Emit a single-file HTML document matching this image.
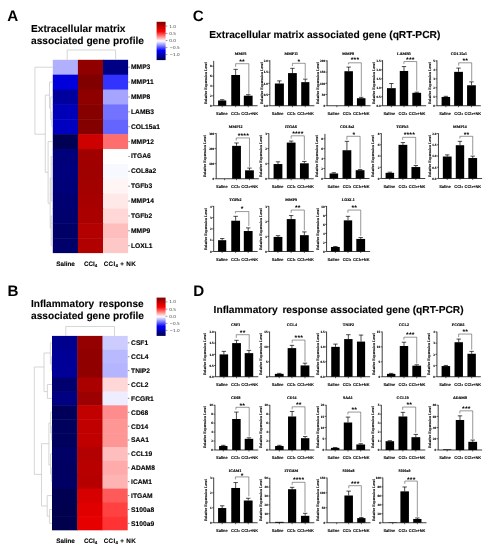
<!DOCTYPE html>
<html lang="en"><head><meta charset="utf-8"><title>Figure</title>
<style>html,body{margin:0;padding:0;background:#fff;}body{width:488px;height:550px;overflow:hidden;}svg text{text-rendering:geometricPrecision;}.ti{font:700 10.2px "Liberation Sans",Arial,sans-serif;fill:#000;stroke:#000;stroke-width:.1px;}.bg{font:700 15.2px "Liberation Sans",Arial,sans-serif;fill:#000;}.gl{font:700 6.7px "Liberation Sans",Arial,sans-serif;fill:#000;stroke:#000;stroke-width:.12px;}.hx{font:700 6.3px "Liberation Sans",Arial,sans-serif;fill:#000;stroke:#000;stroke-width:.12px;}.cb{font:4.2px "DejaVu Sans","Liberation Sans",sans-serif;fill:#444;}.tk{font:700 3.35px "Liberation Serif","Times New Roman",serif;text-anchor:end;stroke:#000;stroke-width:.12px;}.yl{font:700 3.8px "Liberation Serif","Times New Roman",serif;text-anchor:middle;stroke:#000;stroke-width:.1px;}.xl{font:700 4px "Liberation Sans",Arial,sans-serif;text-anchor:middle;stroke:#000;stroke-width:.08px;}.sb{font-size:3px;}.sr{font:700 6.9px "Liberation Sans",Arial,sans-serif;text-anchor:middle;letter-spacing:.15px;}.ct{font:700 3.9px "Liberation Serif","Times New Roman",serif;text-anchor:middle;stroke:#000;stroke-width:.14px;}</style></head>
<body>
<svg width="488" height="550" viewBox="0 0 488 550" style="display:block;"><rect x="0" y="0" width="488" height="550" fill="#fff"/>
<text x="7.2" y="20.7" class="bg">A</text>
<text x="7.6" y="296.2" class="bg">B</text>
<text x="192.8" y="20.7" class="bg">C</text>
<text x="193.2" y="296.2" class="bg">D</text>
<text x="31" y="31.5" class="ti" textLength="94.5" lengthAdjust="spacingAndGlyphs">Extracellular matrix</text>
<text x="31" y="44" class="ti" textLength="113" lengthAdjust="spacingAndGlyphs">associated gene profile</text>
<text x="31" y="306.9" class="ti" textLength="112.6" lengthAdjust="spacingAndGlyphs">Inflammatory<tspan dx="2"> response</tspan></text>
<text x="31" y="319.4" class="ti" textLength="113" lengthAdjust="spacingAndGlyphs">associated gene profile</text>
<text x="209.3" y="38.2" class="ti" textLength="231" lengthAdjust="spacingAndGlyphs">Extracellular matrix associated gene (qRT-PCR)</text>
<text x="213.6" y="312.9" class="ti" textLength="250" lengthAdjust="spacingAndGlyphs">Inflammatory<tspan dx="2"> response</tspan> associated gene (qRT-PCR)</text>
<rect x="52.8" y="59.8" width="25.6" height="15.37" fill="#b0b0ff"/>
<rect x="77.9" y="59.8" width="25.6" height="15.37" fill="#900000"/>
<rect x="103" y="59.8" width="25.1" height="15.37" fill="#000084"/>
<rect x="52.8" y="74.67" width="25.6" height="15.37" fill="#0000dc"/>
<rect x="77.9" y="74.67" width="25.6" height="15.37" fill="#800000"/>
<rect x="103" y="74.67" width="25.1" height="15.37" fill="#3333ff"/>
<rect x="52.8" y="89.54" width="25.6" height="15.37" fill="#00009f"/>
<rect x="77.9" y="89.54" width="25.6" height="15.37" fill="#8e0000"/>
<rect x="103" y="89.54" width="25.1" height="15.37" fill="#a5a5ff"/>
<rect x="52.8" y="104.41" width="25.6" height="15.37" fill="#0000b8"/>
<rect x="77.9" y="104.41" width="25.6" height="15.37" fill="#860000"/>
<rect x="103" y="104.41" width="25.1" height="15.37" fill="#7373ff"/>
<rect x="52.8" y="119.28" width="25.6" height="15.37" fill="#0000c0"/>
<rect x="77.9" y="119.28" width="25.6" height="15.37" fill="#840000"/>
<rect x="103" y="119.28" width="25.1" height="15.37" fill="#6464ff"/>
<rect x="52.8" y="134.15" width="25.6" height="15.37" fill="#000055"/>
<rect x="77.9" y="134.15" width="25.6" height="15.37" fill="#ce0000"/>
<rect x="103" y="134.15" width="25.1" height="15.37" fill="#ff6e6e"/>
<rect x="52.8" y="149.02" width="25.6" height="15.37" fill="#00007b"/>
<rect x="77.9" y="149.02" width="25.6" height="15.37" fill="#a10000"/>
<rect x="103" y="149.02" width="25.1" height="15.37" fill="#ffffff"/>
<rect x="52.8" y="163.89" width="25.6" height="15.37" fill="#00007e"/>
<rect x="77.9" y="163.89" width="25.6" height="15.37" fill="#9f0000"/>
<rect x="103" y="163.89" width="25.1" height="15.37" fill="#f8f8ff"/>
<rect x="52.8" y="178.76" width="25.6" height="15.37" fill="#000078"/>
<rect x="77.9" y="178.76" width="25.6" height="15.37" fill="#a30000"/>
<rect x="103" y="178.76" width="25.1" height="15.37" fill="#fff5f5"/>
<rect x="52.8" y="193.63" width="25.6" height="15.37" fill="#000073"/>
<rect x="77.9" y="193.63" width="25.6" height="15.37" fill="#a70000"/>
<rect x="103" y="193.63" width="25.1" height="15.37" fill="#ffe8e8"/>
<rect x="52.8" y="208.5" width="25.6" height="15.37" fill="#00006e"/>
<rect x="77.9" y="208.5" width="25.6" height="15.37" fill="#ab0000"/>
<rect x="103" y="208.5" width="25.1" height="15.37" fill="#ffd7d7"/>
<rect x="52.8" y="223.37" width="25.6" height="15.37" fill="#000067"/>
<rect x="77.9" y="223.37" width="25.6" height="15.37" fill="#b30000"/>
<rect x="103" y="223.37" width="25.1" height="15.37" fill="#ffbebe"/>
<rect x="52.8" y="238.24" width="25.6" height="14.87" fill="#00006a"/>
<rect x="77.9" y="238.24" width="25.6" height="14.87" fill="#b00000"/>
<rect x="103" y="238.24" width="25.1" height="14.87" fill="#ffc8c8"/>
<line x1="128.3" y1="67.23" x2="129.8" y2="67.23" stroke="#333" stroke-width="0.6"/>
<text class="gl" x="131" y="69.19">MMP3</text>
<line x1="128.3" y1="82.1" x2="129.8" y2="82.1" stroke="#333" stroke-width="0.6"/>
<text class="gl" x="131" y="84.05">MMP11</text>
<line x1="128.3" y1="96.97" x2="129.8" y2="96.97" stroke="#333" stroke-width="0.6"/>
<text class="gl" x="131" y="98.92">MMP8</text>
<line x1="128.3" y1="111.84" x2="129.8" y2="111.84" stroke="#333" stroke-width="0.6"/>
<text class="gl" x="131" y="113.8">LAMB3</text>
<line x1="128.3" y1="126.71" x2="129.8" y2="126.71" stroke="#333" stroke-width="0.6"/>
<text class="gl" x="131" y="128.66">COL15a1</text>
<line x1="128.3" y1="141.58" x2="129.8" y2="141.58" stroke="#333" stroke-width="0.6"/>
<text class="gl" x="131" y="143.53">MMP12</text>
<line x1="128.3" y1="156.45" x2="129.8" y2="156.45" stroke="#333" stroke-width="0.6"/>
<text class="gl" x="131" y="158.4">ITGA6</text>
<line x1="128.3" y1="171.32" x2="129.8" y2="171.32" stroke="#333" stroke-width="0.6"/>
<text class="gl" x="131" y="173.27">COL8a2</text>
<line x1="128.3" y1="186.19" x2="129.8" y2="186.19" stroke="#333" stroke-width="0.6"/>
<text class="gl" x="131" y="188.14">TGFb3</text>
<line x1="128.3" y1="201.06" x2="129.8" y2="201.06" stroke="#333" stroke-width="0.6"/>
<text class="gl" x="131" y="203.01">MMP14</text>
<line x1="128.3" y1="215.94" x2="129.8" y2="215.94" stroke="#333" stroke-width="0.6"/>
<text class="gl" x="131" y="217.88">TGFb2</text>
<line x1="128.3" y1="230.81" x2="129.8" y2="230.81" stroke="#333" stroke-width="0.6"/>
<text class="gl" x="131" y="232.75">MMP9</text>
<line x1="128.3" y1="245.68" x2="129.8" y2="245.68" stroke="#333" stroke-width="0.6"/>
<text class="gl" x="131" y="247.62">LOXL1</text>
<path d="M34.9 67.23L52.8 67.23M34.9 67.23L34.9 134.2M34.9 134.2L45.3 134.2M45.3 95.1L45.3 172.3M45.3 95.1L49.5 95.1M45.3 172.3L48.1 172.3M49.5 82.1L52.8 82.1M49.5 82.1L49.5 108.2M49.5 108.2L50.7 108.2M50.7 96.97L52.8 96.97M50.7 96.97L50.7 119.4M50.7 119.4L51.8 119.4M51.8 111.84L52.8 111.84M51.8 111.84L51.8 126.71M51.8 126.71L52.8 126.71M48.1 141.58L52.8 141.58M48.1 141.58L48.1 203.2M48.1 203.2L50.2 203.2M50.2 178L50.2 228M50.2 178L51.2 178M50.2 228L51.2 228M51.2 156.45L52.8 156.45M51.2 156.45L51.2 201.06M51.2 201.06L52.8 201.06M51.2 215.94L52.8 215.94M51.2 215.94L51.2 245.68M51.2 245.68L52.8 245.68" fill="none" stroke="#c4c4c4" stroke-width="0.7"/>
<path d="M67.2 59.8L67.2 50L115.6 50L115.6 59.8" fill="none" stroke="#c4c4c4" stroke-width="0.7"/>
<text x="56.2" y="266.3" class="hx">Saline</text>
<text x="83.9" y="266.3" class="hx">CCl<tspan font-size="4.4" dy="1">4</tspan></text>
<text x="103.7" y="266.3" class="hx" textLength="32" lengthAdjust="spacing">CCl<tspan font-size="4.4" dy="1">4</tspan><tspan dy="-1"> + NK</tspan></text>
<defs><linearGradient id="cbA" x1="0" y1="0" x2="0" y2="1"><stop offset="0" stop-color="#800000"/><stop offset="0.25" stop-color="#ff0000"/><stop offset="0.5" stop-color="#ffffff"/><stop offset="0.75" stop-color="#0000ff"/><stop offset="1" stop-color="#00004d"/></linearGradient></defs>
<rect x="156.6" y="21.8" width="9" height="38.3" fill="url(#cbA)"/>
<line x1="165.6" y1="26.1" x2="167.4" y2="26.1" stroke="#333" stroke-width="0.5"/>
<text class="cb" x="169.2" y="27.65">1.0</text>
<line x1="165.6" y1="33.4" x2="167.4" y2="33.4" stroke="#333" stroke-width="0.5"/>
<text class="cb" x="169.2" y="34.95">0.5</text>
<line x1="165.6" y1="40.5" x2="167.4" y2="40.5" stroke="#333" stroke-width="0.5"/>
<text class="cb" x="169.2" y="42.05">0.0</text>
<line x1="165.6" y1="47.6" x2="167.4" y2="47.6" stroke="#333" stroke-width="0.5"/>
<text class="cb" x="169.5" y="49.15">−0.5</text>
<line x1="165.6" y1="54.6" x2="167.4" y2="54.6" stroke="#333" stroke-width="0.5"/>
<text class="cb" x="169.5" y="56.15">−1.0</text>
<rect x="52" y="335.9" width="25.73" height="14.39" fill="#00008e"/>
<rect x="77.23" y="335.9" width="25.73" height="14.39" fill="#950000"/>
<rect x="102.46" y="335.9" width="25.23" height="14.39" fill="#ccccff"/>
<rect x="52" y="349.79" width="25.73" height="14.39" fill="#000097"/>
<rect x="77.23" y="349.79" width="25.73" height="14.39" fill="#910000"/>
<rect x="102.46" y="349.79" width="25.23" height="14.39" fill="#b9b9ff"/>
<rect x="52" y="363.67" width="25.73" height="14.39" fill="#000099"/>
<rect x="77.23" y="363.67" width="25.73" height="14.39" fill="#900000"/>
<rect x="102.46" y="363.67" width="25.23" height="14.39" fill="#b4b4ff"/>
<rect x="52" y="377.56" width="25.73" height="14.39" fill="#00006e"/>
<rect x="77.23" y="377.56" width="25.73" height="14.39" fill="#ab0000"/>
<rect x="102.46" y="377.56" width="25.23" height="14.39" fill="#ffd7d7"/>
<rect x="52" y="391.44" width="25.73" height="14.39" fill="#000081"/>
<rect x="77.23" y="391.44" width="25.73" height="14.39" fill="#9c0000"/>
<rect x="102.46" y="391.44" width="25.23" height="14.39" fill="#ededff"/>
<rect x="52" y="405.33" width="25.73" height="14.39" fill="#00005b"/>
<rect x="77.23" y="405.33" width="25.73" height="14.39" fill="#c30000"/>
<rect x="102.46" y="405.33" width="25.23" height="14.39" fill="#ff8c8c"/>
<rect x="52" y="419.22" width="25.73" height="14.39" fill="#00005d"/>
<rect x="77.23" y="419.22" width="25.73" height="14.39" fill="#c00000"/>
<rect x="102.46" y="419.22" width="25.23" height="14.39" fill="#ff9696"/>
<rect x="52" y="433.1" width="25.73" height="14.39" fill="#00005d"/>
<rect x="77.23" y="433.1" width="25.73" height="14.39" fill="#c00000"/>
<rect x="102.46" y="433.1" width="25.23" height="14.39" fill="#ff9696"/>
<rect x="52" y="446.99" width="25.73" height="14.39" fill="#000067"/>
<rect x="77.23" y="446.99" width="25.73" height="14.39" fill="#b30000"/>
<rect x="102.46" y="446.99" width="25.23" height="14.39" fill="#ffbebe"/>
<rect x="52" y="460.87" width="25.73" height="14.39" fill="#000062"/>
<rect x="77.23" y="460.87" width="25.73" height="14.39" fill="#b90000"/>
<rect x="102.46" y="460.87" width="25.23" height="14.39" fill="#ffabab"/>
<rect x="52" y="474.76" width="25.73" height="14.39" fill="#000064"/>
<rect x="77.23" y="474.76" width="25.73" height="14.39" fill="#b60000"/>
<rect x="102.46" y="474.76" width="25.23" height="14.39" fill="#ffb4b4"/>
<rect x="52" y="488.65" width="25.73" height="14.39" fill="#000052"/>
<rect x="77.23" y="488.65" width="25.73" height="14.39" fill="#d60000"/>
<rect x="102.46" y="488.65" width="25.23" height="14.39" fill="#ff5a5a"/>
<rect x="52" y="502.53" width="25.73" height="14.39" fill="#00004f"/>
<rect x="77.23" y="502.53" width="25.73" height="14.39" fill="#e00000"/>
<rect x="102.46" y="502.53" width="25.23" height="14.39" fill="#ff4141"/>
<rect x="52" y="516.42" width="25.73" height="13.89" fill="#00004d"/>
<rect x="77.23" y="516.42" width="25.73" height="13.89" fill="#e60000"/>
<rect x="102.46" y="516.42" width="25.23" height="13.89" fill="#ff3333"/>
<line x1="127.89" y1="342.84" x2="129.39" y2="342.84" stroke="#333" stroke-width="0.6"/>
<text class="gl" x="131.09" y="345.24">CSF1</text>
<line x1="127.89" y1="356.73" x2="129.39" y2="356.73" stroke="#333" stroke-width="0.6"/>
<text class="gl" x="131.09" y="359.13">CCL4</text>
<line x1="127.89" y1="370.61" x2="129.39" y2="370.61" stroke="#333" stroke-width="0.6"/>
<text class="gl" x="131.09" y="373.01">TNIP2</text>
<line x1="127.89" y1="384.5" x2="129.39" y2="384.5" stroke="#333" stroke-width="0.6"/>
<text class="gl" x="131.09" y="386.9">CCL2</text>
<line x1="127.89" y1="398.39" x2="129.39" y2="398.39" stroke="#333" stroke-width="0.6"/>
<text class="gl" x="131.09" y="400.79">FCGR1</text>
<line x1="127.89" y1="412.27" x2="129.39" y2="412.27" stroke="#333" stroke-width="0.6"/>
<text class="gl" x="131.09" y="414.67">CD68</text>
<line x1="127.89" y1="426.16" x2="129.39" y2="426.16" stroke="#333" stroke-width="0.6"/>
<text class="gl" x="131.09" y="428.56">CD14</text>
<line x1="127.89" y1="440.04" x2="129.39" y2="440.04" stroke="#333" stroke-width="0.6"/>
<text class="gl" x="131.09" y="442.44">SAA1</text>
<line x1="127.89" y1="453.93" x2="129.39" y2="453.93" stroke="#333" stroke-width="0.6"/>
<text class="gl" x="131.09" y="456.33">CCL19</text>
<line x1="127.89" y1="467.82" x2="129.39" y2="467.82" stroke="#333" stroke-width="0.6"/>
<text class="gl" x="131.09" y="470.22">ADAM8</text>
<line x1="127.89" y1="481.7" x2="129.39" y2="481.7" stroke="#333" stroke-width="0.6"/>
<text class="gl" x="131.09" y="484.1">ICAM1</text>
<line x1="127.89" y1="495.59" x2="129.39" y2="495.59" stroke="#333" stroke-width="0.6"/>
<text class="gl" x="131.09" y="497.99">ITGAM</text>
<line x1="127.89" y1="509.47" x2="129.39" y2="509.47" stroke="#333" stroke-width="0.6"/>
<text class="gl" x="131.09" y="511.87">S100a8</text>
<line x1="127.89" y1="523.36" x2="129.39" y2="523.36" stroke="#333" stroke-width="0.6"/>
<text class="gl" x="131.09" y="525.76">S100a9</text>
<path d="M34.3 367L34.3 474.4M34.3 367L44 367M34.3 474.4L41.5 474.4M44 353L44 391.6M44 353L50.4 353M44 391.6L47.4 391.6M47.4 384.5L52 384.5M47.4 384.5L47.4 398.39M47.4 398.39L52 398.39M50.4 342.84L52 342.84M50.4 342.84L50.4 363.9M50.4 363.9L51.5 363.9M51.5 356.73L52 356.73M51.5 356.73L51.5 370.61M51.5 370.61L52 370.61M41.5 443.7L41.5 506M41.5 443.7L48.9 443.7M41.5 506L47.2 506M48.9 423L48.9 465M48.9 423L50.6 423M48.9 465L50.6 465M50.6 412.27L52 412.27M50.6 412.27L50.6 433M50.6 433L51.6 433M51.6 426.16L52 426.16M51.6 426.16L51.6 440.04M51.6 440.04L52 440.04M50.6 453.93L52 453.93M50.6 453.93L50.6 474M50.6 474L51.6 474M51.6 467.82L52 467.82M51.6 467.82L51.6 481.7M51.6 481.7L52 481.7M47.2 495.59L52 495.59M47.2 495.59L47.2 516.2M47.2 516.2L49.6 516.2M49.6 509.47L52 509.47M49.6 509.47L49.6 523.36M49.6 523.36L52 523.36" fill="none" stroke="#c4c4c4" stroke-width="0.7"/>
<path d="M65.8 335.9L65.8 326.5L114.5 326.5L114.5 335.9" fill="none" stroke="#c4c4c4" stroke-width="0.7"/>
<text x="56.2" y="543.2" class="hx">Saline</text>
<text x="83.9" y="543.2" class="hx">CCl<tspan font-size="4.4" dy="1">4</tspan></text>
<text x="103.7" y="543.2" class="hx" textLength="32" lengthAdjust="spacing">CCl<tspan font-size="4.4" dy="1">4</tspan><tspan dy="-1"> + NK</tspan></text>
<defs><linearGradient id="cbB" x1="0" y1="0" x2="0" y2="1"><stop offset="0" stop-color="#800000"/><stop offset="0.25" stop-color="#ff0000"/><stop offset="0.5" stop-color="#ffffff"/><stop offset="0.75" stop-color="#0000ff"/><stop offset="1" stop-color="#00004d"/></linearGradient></defs>
<rect x="156.6" y="297.6" width="9" height="38.3" fill="url(#cbB)"/>
<line x1="165.6" y1="301.9" x2="167.4" y2="301.9" stroke="#333" stroke-width="0.5"/>
<text class="cb" x="169.2" y="303.45">1.0</text>
<line x1="165.6" y1="309.2" x2="167.4" y2="309.2" stroke="#333" stroke-width="0.5"/>
<text class="cb" x="169.2" y="310.75">0.5</text>
<line x1="165.6" y1="316.3" x2="167.4" y2="316.3" stroke="#333" stroke-width="0.5"/>
<text class="cb" x="169.2" y="317.85">0.0</text>
<line x1="165.6" y1="323.4" x2="167.4" y2="323.4" stroke="#333" stroke-width="0.5"/>
<text class="cb" x="169.5" y="324.95">−0.5</text>
<line x1="165.6" y1="330.4" x2="167.4" y2="330.4" stroke="#333" stroke-width="0.5"/>
<text class="cb" x="169.5" y="331.95">−1.0</text>
<g><path d="M213.69 60.88L213.69 105.74L257.62 105.74" fill="none" stroke="#000" stroke-width="0.75"/><line x1="212.09" y1="105.74" x2="213.69" y2="105.74" stroke="#000" stroke-width="0.6"/><text class="tk" x="211.69" y="106.99">0</text><line x1="212.09" y1="95.85" x2="213.69" y2="95.85" stroke="#000" stroke-width="0.6"/><text class="tk" x="211.69" y="97.1">2</text><line x1="212.09" y1="85.97" x2="213.69" y2="85.97" stroke="#000" stroke-width="0.6"/><text class="tk" x="211.69" y="87.22">4</text><line x1="212.09" y1="76.08" x2="213.69" y2="76.08" stroke="#000" stroke-width="0.6"/><text class="tk" x="211.69" y="77.33">6</text><line x1="212.09" y1="66.2" x2="213.69" y2="66.2" stroke="#000" stroke-width="0.6"/><text class="tk" x="211.69" y="67.45">8</text><text class="yl" transform="translate(206.91 83.14) rotate(-90)">Relative Expression Level</text><rect x="218.08" y="100.47" width="8.16" height="5.27" fill="#000"/><path d="M222.16 100.47L222.16 99.71M219.96 99.71L224.36 99.71" stroke="#000" stroke-width="0.7" fill="none"/><line x1="222.16" y1="105.74" x2="222.16" y2="107.24" stroke="#000" stroke-width="0.6"/><text class="xl" x="221.9" y="114.87">Saline</text><rect x="231.26" y="74.99" width="8.79" height="30.75" fill="#000"/><path d="M235.65 74.99L235.65 69.34M233.45 69.34L237.85 69.34" stroke="#000" stroke-width="0.7" fill="none"/><line x1="235.65" y1="105.74" x2="235.65" y2="107.24" stroke="#000" stroke-width="0.6"/><text class="xl" x="235.4" y="114.87">CCl<tspan class="sb" dy="0.6">4</tspan></text><rect x="243.81" y="95.7" width="8.79" height="10.04" fill="#000"/><path d="M248.21 95.7L248.21 94.69M246.01 94.69L250.41 94.69" stroke="#000" stroke-width="0.7" fill="none"/><line x1="248.21" y1="105.74" x2="248.21" y2="107.24" stroke="#000" stroke-width="0.6"/><text class="xl" x="249.7" y="114.87">CCl<tspan class="sb" dy="0.6">4</tspan><tspan dy="-0.6">+NK</tspan></text><path d="M235.65 66.83L235.65 63.69L248.83 63.69L248.83 93.81" fill="none" stroke="#333" stroke-width="0.5"/><text class="sr" x="242.08" y="63.75">**</text><text class="ct" x="240.67" y="54.95">MMP3</text></g>
<g><path d="M269.83 60.25L269.83 105.74L314.38 105.74" fill="none" stroke="#000" stroke-width="0.75"/><line x1="268.23" y1="105.74" x2="269.83" y2="105.74" stroke="#000" stroke-width="0.6"/><text class="tk" x="267.83" y="106.99">0.0</text><line x1="268.23" y1="94.53" x2="269.83" y2="94.53" stroke="#000" stroke-width="0.6"/><text class="tk" x="267.83" y="95.78">0.5</text><line x1="268.23" y1="83.33" x2="269.83" y2="83.33" stroke="#000" stroke-width="0.6"/><text class="tk" x="267.83" y="84.58">1.0</text><line x1="268.23" y1="72.13" x2="269.83" y2="72.13" stroke="#000" stroke-width="0.6"/><text class="tk" x="267.83" y="73.38">1.5</text><line x1="268.23" y1="60.93" x2="269.83" y2="60.93" stroke="#000" stroke-width="0.6"/><text class="tk" x="267.83" y="62.18">2.0</text><text class="yl" transform="translate(263.05 83.14) rotate(-90)">Relative Expression Level</text><rect x="274.85" y="83.52" width="9.04" height="22.22" fill="#000"/><path d="M279.37 83.52L279.37 80.88M277.17 80.88L281.57 80.88" stroke="#000" stroke-width="0.7" fill="none"/><line x1="279.37" y1="105.74" x2="279.37" y2="107.24" stroke="#000" stroke-width="0.6"/><text class="xl" x="277.7" y="114.87">Saline</text><rect x="288.03" y="73.1" width="8.79" height="32.63" fill="#000"/><path d="M292.42 73.1L292.42 68.33M290.22 68.33L294.62 68.33" stroke="#000" stroke-width="0.7" fill="none"/><line x1="292.42" y1="105.74" x2="292.42" y2="107.24" stroke="#000" stroke-width="0.6"/><text class="xl" x="291.2" y="114.87">CCl<tspan class="sb" dy="0.6">4</tspan></text><rect x="301.21" y="82.14" width="8.16" height="23.6" fill="#000"/><path d="M305.28 82.14L305.28 79.13M303.08 79.13L307.48 79.13" stroke="#000" stroke-width="0.7" fill="none"/><line x1="305.28" y1="105.74" x2="305.28" y2="107.24" stroke="#000" stroke-width="0.6"/><text class="xl" x="305.5" y="114.87">CCl<tspan class="sb" dy="0.6">4</tspan><tspan dy="-0.6">+NK</tspan></text><path d="M292.42 66.2L292.42 63.31L305.22 63.31L305.22 78.12" fill="none" stroke="#333" stroke-width="0.5"/><text class="sr" x="298.85" y="63.75">*</text><text class="ct" x="291.16" y="54.95">MMP11</text></g>
<g><path d="M327.08 60.25L327.08 105.74L370.51 105.74" fill="none" stroke="#000" stroke-width="0.75"/><line x1="325.48" y1="105.74" x2="327.08" y2="105.74" stroke="#000" stroke-width="0.6"/><text class="tk" x="325.08" y="106.99">0</text><line x1="325.48" y1="94.53" x2="327.08" y2="94.53" stroke="#000" stroke-width="0.6"/><text class="tk" x="325.08" y="95.78">50</text><line x1="325.48" y1="83.33" x2="327.08" y2="83.33" stroke="#000" stroke-width="0.6"/><text class="tk" x="325.08" y="84.58">100</text><line x1="325.48" y1="72.13" x2="327.08" y2="72.13" stroke="#000" stroke-width="0.6"/><text class="tk" x="325.08" y="73.38">150</text><line x1="325.48" y1="60.93" x2="327.08" y2="60.93" stroke="#000" stroke-width="0.6"/><text class="tk" x="325.08" y="62.18">200</text><text class="yl" transform="translate(318.79 83.14) rotate(-90)">Relative Expression Level</text><line x1="336.87" y1="105.74" x2="336.87" y2="107.24" stroke="#000" stroke-width="0.6"/><text class="xl" x="333.5" y="114.87">Saline</text><rect x="344.4" y="71.22" width="8.53" height="34.52" fill="#000"/><path d="M348.67 71.22L348.67 67.08M346.47 67.08L350.87 67.08" stroke="#000" stroke-width="0.7" fill="none"/><line x1="348.67" y1="105.74" x2="348.67" y2="107.24" stroke="#000" stroke-width="0.6"/><text class="xl" x="347" y="114.87">CCl<tspan class="sb" dy="0.6">4</tspan></text><rect x="356.95" y="98.21" width="8.53" height="7.53" fill="#000"/><path d="M361.22 98.21L361.22 97.33M359.02 97.33L363.42 97.33" stroke="#000" stroke-width="0.7" fill="none"/><line x1="361.22" y1="105.74" x2="361.22" y2="107.24" stroke="#000" stroke-width="0.6"/><text class="xl" x="361.3" y="114.87">CCl<tspan class="sb" dy="0.6">4</tspan><tspan dy="-0.6">+NK</tspan></text><path d="M348.42 64.32L348.42 62.81L361.34 62.81L361.34 96.32" fill="none" stroke="#333" stroke-width="0.5"/><text class="sr" x="354.97" y="61.87">***</text><text class="ct" x="348.16" y="54.95">MMP8</text></g>
<g><path d="M382.58 60.25L382.58 105.74L426.13 105.74" fill="none" stroke="#000" stroke-width="0.75"/><line x1="380.98" y1="105.74" x2="382.58" y2="105.74" stroke="#000" stroke-width="0.6"/><text class="tk" x="380.58" y="106.99">0.0</text><line x1="380.98" y1="96.77" x2="382.58" y2="96.77" stroke="#000" stroke-width="0.6"/><text class="tk" x="380.58" y="98.02">0.5</text><line x1="380.98" y1="87.81" x2="382.58" y2="87.81" stroke="#000" stroke-width="0.6"/><text class="tk" x="380.58" y="89.06">1.0</text><line x1="380.98" y1="78.85" x2="382.58" y2="78.85" stroke="#000" stroke-width="0.6"/><text class="tk" x="380.58" y="80.1">1.5</text><line x1="380.98" y1="69.89" x2="382.58" y2="69.89" stroke="#000" stroke-width="0.6"/><text class="tk" x="380.58" y="71.14">2.0</text><line x1="380.98" y1="60.93" x2="382.58" y2="60.93" stroke="#000" stroke-width="0.6"/><text class="tk" x="380.58" y="62.18">2.5</text><text class="yl" transform="translate(374.79 83.14) rotate(-90)">Relative Expression Level</text><rect x="386.97" y="88.16" width="8.79" height="17.57" fill="#000"/><path d="M391.36 88.16L391.36 83.52M389.16 83.52L393.56 83.52" stroke="#000" stroke-width="0.7" fill="none"/><line x1="391.36" y1="105.74" x2="391.36" y2="107.24" stroke="#000" stroke-width="0.6"/><text class="xl" x="389.3" y="114.87">Saline</text><rect x="399.77" y="70.97" width="8.41" height="34.77" fill="#000"/><path d="M403.98 70.97L403.98 66.58M401.78 66.58L406.18 66.58" stroke="#000" stroke-width="0.7" fill="none"/><line x1="403.98" y1="105.74" x2="403.98" y2="107.24" stroke="#000" stroke-width="0.6"/><text class="xl" x="402.8" y="114.87">CCl<tspan class="sb" dy="0.6">4</tspan></text><rect x="412.32" y="92.81" width="8.79" height="12.93" fill="#000"/><path d="M416.72 92.81L416.72 92.18M414.52 92.18L418.92 92.18" stroke="#000" stroke-width="0.7" fill="none"/><line x1="416.72" y1="105.74" x2="416.72" y2="107.24" stroke="#000" stroke-width="0.6"/><text class="xl" x="417.1" y="114.87">CCl<tspan class="sb" dy="0.6">4</tspan><tspan dy="-0.6">+NK</tspan></text><path d="M403.91 64.07L403.91 61.56L416.72 61.56L416.72 90.67" fill="none" stroke="#333" stroke-width="0.5"/><text class="sr" x="410.34" y="61.87">***</text><text class="ct" x="403.91" y="54.95">LAMB3</text></g>
<g><path d="M436.94 60.25L436.94 105.74L480.87 105.74" fill="none" stroke="#000" stroke-width="0.75"/><line x1="435.34" y1="105.74" x2="436.94" y2="105.74" stroke="#000" stroke-width="0.6"/><text class="tk" x="434.94" y="106.99">0</text><line x1="435.34" y1="96.77" x2="436.94" y2="96.77" stroke="#000" stroke-width="0.6"/><text class="tk" x="434.94" y="98.02">1</text><line x1="435.34" y1="87.81" x2="436.94" y2="87.81" stroke="#000" stroke-width="0.6"/><text class="tk" x="434.94" y="89.06">2</text><line x1="435.34" y1="78.85" x2="436.94" y2="78.85" stroke="#000" stroke-width="0.6"/><text class="tk" x="434.94" y="80.1">3</text><line x1="435.34" y1="69.89" x2="436.94" y2="69.89" stroke="#000" stroke-width="0.6"/><text class="tk" x="434.94" y="71.14">4</text><line x1="435.34" y1="60.93" x2="436.94" y2="60.93" stroke="#000" stroke-width="0.6"/><text class="tk" x="434.94" y="62.18">5</text><text class="yl" transform="translate(430.54 83.14) rotate(-90)">Relative Expression Level</text><rect x="441.59" y="96.95" width="8.53" height="8.79" fill="#000"/><path d="M445.86 96.95L445.86 96.32M443.66 96.32L448.06 96.32" stroke="#000" stroke-width="0.7" fill="none"/><line x1="445.86" y1="105.74" x2="445.86" y2="107.24" stroke="#000" stroke-width="0.6"/><text class="xl" x="445.1" y="114.87">Saline</text><rect x="454.14" y="71.85" width="8.79" height="33.89" fill="#000"/><path d="M458.53 71.85L458.53 68.08M456.33 68.08L460.73 68.08" stroke="#000" stroke-width="0.7" fill="none"/><line x1="458.53" y1="105.74" x2="458.53" y2="107.24" stroke="#000" stroke-width="0.6"/><text class="xl" x="458.6" y="114.87">CCl<tspan class="sb" dy="0.6">4</tspan></text><rect x="467.07" y="85.28" width="8.79" height="20.46" fill="#000"/><path d="M471.46 85.28L471.46 81.89M469.26 81.89L473.66 81.89" stroke="#000" stroke-width="0.7" fill="none"/><line x1="471.46" y1="105.74" x2="471.46" y2="107.24" stroke="#000" stroke-width="0.6"/><text class="xl" x="472.9" y="114.87">CCl<tspan class="sb" dy="0.6">4</tspan><tspan dy="-0.6">+NK</tspan></text><path d="M458.66 65.57L458.66 62.81L471.71 62.81L471.71 80.88" fill="none" stroke="#333" stroke-width="0.5"/><text class="sr" x="465.34" y="63.12">**</text><text class="ct" x="458.91" y="54.95">COL15a1</text></g>
<g><path d="M216.2 133.25L216.2 178.74L258.87 178.74" fill="none" stroke="#000" stroke-width="0.75"/><line x1="214.6" y1="178.74" x2="216.2" y2="178.74" stroke="#000" stroke-width="0.6"/><text class="tk" x="214.2" y="179.99">0</text><line x1="214.6" y1="163.67" x2="216.2" y2="163.67" stroke="#000" stroke-width="0.6"/><text class="tk" x="214.2" y="164.92">100</text><line x1="214.6" y1="148.61" x2="216.2" y2="148.61" stroke="#000" stroke-width="0.6"/><text class="tk" x="214.2" y="149.86">200</text><line x1="214.6" y1="133.55" x2="216.2" y2="133.55" stroke="#000" stroke-width="0.6"/><text class="tk" x="214.2" y="134.8">300</text><text class="yl" transform="translate(205.65 156.14) rotate(-90)">Relative Expression Level</text><line x1="224.61" y1="178.74" x2="224.61" y2="180.24" stroke="#000" stroke-width="0.6"/><text class="xl" x="221.9" y="187.87">Saline</text><rect x="232.14" y="145.85" width="8.79" height="32.88" fill="#000"/><path d="M236.53 145.85L236.53 142.97M234.33 142.97L238.73 142.97" stroke="#000" stroke-width="0.7" fill="none"/><line x1="236.53" y1="178.74" x2="236.53" y2="180.24" stroke="#000" stroke-width="0.6"/><text class="xl" x="235.4" y="187.87">CCl<tspan class="sb" dy="0.6">4</tspan></text><rect x="245.07" y="170.33" width="8.79" height="8.41" fill="#000"/><path d="M249.46 170.33L249.46 168.07M247.26 168.07L251.66 168.07" stroke="#000" stroke-width="0.7" fill="none"/><line x1="249.46" y1="178.74" x2="249.46" y2="180.24" stroke="#000" stroke-width="0.6"/><text class="xl" x="249.7" y="187.87">CCl<tspan class="sb" dy="0.6">4</tspan><tspan dy="-0.6">+NK</tspan></text><path d="M236.28 140.45L236.28 137.94L249.46 137.94L249.46 166.81" fill="none" stroke="#333" stroke-width="0.5"/><text class="sr" x="243.34" y="137.76">****</text><text class="ct" x="235.65" y="127.95">MMP12</text></g>
<g><path d="M268.82 133.25L268.82 178.74L313.76 178.74" fill="none" stroke="#000" stroke-width="0.75"/><line x1="267.22" y1="178.74" x2="268.82" y2="178.74" stroke="#000" stroke-width="0.6"/><text class="tk" x="266.82" y="179.99">0</text><line x1="267.22" y1="163.67" x2="268.82" y2="163.67" stroke="#000" stroke-width="0.6"/><text class="tk" x="266.82" y="164.92">1</text><line x1="267.22" y1="148.61" x2="268.82" y2="148.61" stroke="#000" stroke-width="0.6"/><text class="tk" x="266.82" y="149.86">2</text><line x1="267.22" y1="133.55" x2="268.82" y2="133.55" stroke="#000" stroke-width="0.6"/><text class="tk" x="266.82" y="134.8">3</text><text class="yl" transform="translate(262.04 156.14) rotate(-90)">Relative Expression Level</text><rect x="273.59" y="164.05" width="8.79" height="14.69" fill="#000"/><path d="M277.99 164.05L277.99 161.79M275.79 161.79L280.19 161.79" stroke="#000" stroke-width="0.7" fill="none"/><line x1="277.99" y1="178.74" x2="277.99" y2="180.24" stroke="#000" stroke-width="0.6"/><text class="xl" x="277.7" y="187.87">Saline</text><rect x="286.77" y="142.59" width="8.79" height="36.15" fill="#000"/><path d="M291.16 142.59L291.16 141.08M288.96 141.08L293.36 141.08" stroke="#000" stroke-width="0.7" fill="none"/><line x1="291.16" y1="178.74" x2="291.16" y2="180.24" stroke="#000" stroke-width="0.6"/><text class="xl" x="291.2" y="187.87">CCl<tspan class="sb" dy="0.6">4</tspan></text><rect x="299.95" y="163.3" width="8.79" height="15.44" fill="#000"/><path d="M304.34 163.3L304.34 161.42M302.14 161.42L306.54 161.42" stroke="#000" stroke-width="0.7" fill="none"/><line x1="304.34" y1="178.74" x2="304.34" y2="180.24" stroke="#000" stroke-width="0.6"/><text class="xl" x="305.5" y="187.87">CCl<tspan class="sb" dy="0.6">4</tspan><tspan dy="-0.6">+NK</tspan></text><path d="M291.16 138.57L291.16 135.81L304.34 135.81L304.34 159.91" fill="none" stroke="#333" stroke-width="0.5"/><text class="sr" x="297.84" y="136.12">****</text><text class="ct" x="290.91" y="127.95">ITGA6</text></g>
<g><path d="M324.94 133.88L324.94 178.49L369.5 178.49" fill="none" stroke="#000" stroke-width="0.75"/><line x1="323.34" y1="178.49" x2="324.94" y2="178.49" stroke="#000" stroke-width="0.6"/><text class="tk" x="322.94" y="179.74">0</text><line x1="323.34" y1="168.57" x2="324.94" y2="168.57" stroke="#000" stroke-width="0.6"/><text class="tk" x="322.94" y="169.82">2</text><line x1="323.34" y1="158.65" x2="324.94" y2="158.65" stroke="#000" stroke-width="0.6"/><text class="tk" x="322.94" y="159.9">4</text><line x1="323.34" y1="148.74" x2="324.94" y2="148.74" stroke="#000" stroke-width="0.6"/><text class="tk" x="322.94" y="149.99">6</text><line x1="323.34" y1="138.82" x2="324.94" y2="138.82" stroke="#000" stroke-width="0.6"/><text class="tk" x="322.94" y="140.07">8</text><text class="yl" transform="translate(318.16 156.14) rotate(-90)">Relative Expression Level</text><rect x="329.59" y="173.47" width="8.53" height="5.02" fill="#000"/><path d="M333.86 173.47L333.86 172.71M331.66 172.71L336.06 172.71" stroke="#000" stroke-width="0.7" fill="none"/><line x1="333.86" y1="178.49" x2="333.86" y2="179.99" stroke="#000" stroke-width="0.6"/><text class="xl" x="333.5" y="187.87">Saline</text><rect x="342.52" y="150.24" width="8.79" height="28.24" fill="#000"/><path d="M346.91 150.24L346.91 141.33M344.71 141.33L349.11 141.33" stroke="#000" stroke-width="0.7" fill="none"/><line x1="346.91" y1="178.49" x2="346.91" y2="179.99" stroke="#000" stroke-width="0.6"/><text class="xl" x="347" y="187.87">CCl<tspan class="sb" dy="0.6">4</tspan></text><rect x="355.7" y="170.2" width="8.79" height="8.28" fill="#000"/><path d="M360.09 170.2L360.09 169.57M357.89 169.57L362.29 169.57" stroke="#000" stroke-width="0.7" fill="none"/><line x1="360.09" y1="178.49" x2="360.09" y2="179.99" stroke="#000" stroke-width="0.6"/><text class="xl" x="361.3" y="187.87">CCl<tspan class="sb" dy="0.6">4</tspan><tspan dy="-0.6">+NK</tspan></text><path d="M346.91 139.83L346.91 136.31L360.09 136.31L360.09 168.44" fill="none" stroke="#333" stroke-width="0.5"/><text class="sr" x="353.96" y="136.75">*</text><text class="ct" x="347.16" y="127.95">COL8a2</text></g>
<g><path d="M381.32 133.25L381.32 178.49L425.25 178.49" fill="none" stroke="#000" stroke-width="0.75"/><line x1="379.72" y1="178.49" x2="381.32" y2="178.49" stroke="#000" stroke-width="0.6"/><text class="tk" x="379.32" y="179.74">0</text><line x1="379.72" y1="167.25" x2="381.32" y2="167.25" stroke="#000" stroke-width="0.6"/><text class="tk" x="379.32" y="168.5">2</text><line x1="379.72" y1="156.02" x2="381.32" y2="156.02" stroke="#000" stroke-width="0.6"/><text class="tk" x="379.32" y="157.27">4</text><line x1="379.72" y1="144.78" x2="381.32" y2="144.78" stroke="#000" stroke-width="0.6"/><text class="tk" x="379.32" y="146.03">6</text><line x1="379.72" y1="133.55" x2="381.32" y2="133.55" stroke="#000" stroke-width="0.6"/><text class="tk" x="379.32" y="134.8">8</text><text class="yl" transform="translate(374.16 156.14) rotate(-90)">Relative Expression Level</text><rect x="385.59" y="172.84" width="8.53" height="5.65" fill="#000"/><path d="M389.86 172.84L389.86 172.21M387.66 172.21L392.06 172.21" stroke="#000" stroke-width="0.7" fill="none"/><line x1="389.86" y1="178.49" x2="389.86" y2="179.99" stroke="#000" stroke-width="0.6"/><text class="xl" x="389.3" y="187.87">Saline</text><rect x="398.52" y="144.85" width="8.79" height="33.64" fill="#000"/><path d="M402.91 144.85L402.91 142.59M400.71 142.59L405.11 142.59" stroke="#000" stroke-width="0.7" fill="none"/><line x1="402.91" y1="178.49" x2="402.91" y2="179.99" stroke="#000" stroke-width="0.6"/><text class="xl" x="402.8" y="187.87">CCl<tspan class="sb" dy="0.6">4</tspan></text><rect x="411.44" y="167.06" width="8.79" height="11.42" fill="#000"/><path d="M415.84 167.06L415.84 165.56M413.64 165.56L418.04 165.56" stroke="#000" stroke-width="0.7" fill="none"/><line x1="415.84" y1="178.49" x2="415.84" y2="179.99" stroke="#000" stroke-width="0.6"/><text class="xl" x="417.1" y="187.87">CCl<tspan class="sb" dy="0.6">4</tspan><tspan dy="-0.6">+NK</tspan></text><path d="M402.66 139.83L402.66 137.32L415.71 137.32L415.71 164.3" fill="none" stroke="#333" stroke-width="0.5"/><text class="sr" x="409.34" y="137.38">****</text><text class="ct" x="402.28" y="127.95">TGFb3</text></g>
<g><path d="M438.45 133.25L438.45 178.49L482.13 178.49" fill="none" stroke="#000" stroke-width="0.75"/><line x1="436.85" y1="178.49" x2="438.45" y2="178.49" stroke="#000" stroke-width="0.6"/><text class="tk" x="436.45" y="179.74">0.0</text><line x1="436.85" y1="167.25" x2="438.45" y2="167.25" stroke="#000" stroke-width="0.6"/><text class="tk" x="436.45" y="168.5">0.5</text><line x1="436.85" y1="156.02" x2="438.45" y2="156.02" stroke="#000" stroke-width="0.6"/><text class="tk" x="436.45" y="157.27">1.0</text><line x1="436.85" y1="144.78" x2="438.45" y2="144.78" stroke="#000" stroke-width="0.6"/><text class="tk" x="436.45" y="146.03">1.5</text><line x1="436.85" y1="133.55" x2="438.45" y2="133.55" stroke="#000" stroke-width="0.6"/><text class="tk" x="436.45" y="134.8">2.0</text><text class="yl" transform="translate(430.54 156.14) rotate(-90)">Relative Expression Level</text><rect x="442.84" y="156.52" width="8.79" height="21.97" fill="#000"/><path d="M447.24 156.52L447.24 154.89M445.04 154.89L449.44 154.89" stroke="#000" stroke-width="0.7" fill="none"/><line x1="447.24" y1="178.49" x2="447.24" y2="179.99" stroke="#000" stroke-width="0.6"/><text class="xl" x="445.1" y="187.87">Saline</text><rect x="455.77" y="145.22" width="8.41" height="33.26" fill="#000"/><path d="M459.98 145.22L459.98 141.33M457.78 141.33L462.18 141.33" stroke="#000" stroke-width="0.7" fill="none"/><line x1="459.98" y1="178.49" x2="459.98" y2="179.99" stroke="#000" stroke-width="0.6"/><text class="xl" x="458.6" y="187.87">CCl<tspan class="sb" dy="0.6">4</tspan></text><rect x="468.32" y="158.03" width="8.79" height="20.46" fill="#000"/><path d="M472.72 158.03L472.72 156.14M470.52 156.14L474.92 156.14" stroke="#000" stroke-width="0.7" fill="none"/><line x1="472.72" y1="178.49" x2="472.72" y2="179.99" stroke="#000" stroke-width="0.6"/><text class="xl" x="472.9" y="187.87">CCl<tspan class="sb" dy="0.6">4</tspan><tspan dy="-0.6">+NK</tspan></text><path d="M459.91 138.57L459.91 136.31L472.72 136.31L472.72 154.89" fill="none" stroke="#333" stroke-width="0.5"/><text class="sr" x="466.59" y="136.75">**</text><text class="ct" x="459.91" y="127.95">MMP14</text></g>
<g><path d="M213.69 206L213.69 251.49L257.62 251.49" fill="none" stroke="#000" stroke-width="0.75"/><line x1="212.09" y1="251.49" x2="213.69" y2="251.49" stroke="#000" stroke-width="0.6"/><text class="tk" x="211.69" y="252.74">0</text><line x1="212.09" y1="240.19" x2="213.69" y2="240.19" stroke="#000" stroke-width="0.6"/><text class="tk" x="211.69" y="241.44">1</text><line x1="212.09" y1="228.89" x2="213.69" y2="228.89" stroke="#000" stroke-width="0.6"/><text class="tk" x="211.69" y="230.14">2</text><line x1="212.09" y1="217.6" x2="213.69" y2="217.6" stroke="#000" stroke-width="0.6"/><text class="tk" x="211.69" y="218.85">3</text><line x1="212.09" y1="206.3" x2="213.69" y2="206.3" stroke="#000" stroke-width="0.6"/><text class="tk" x="211.69" y="207.55">4</text><text class="yl" transform="translate(206.53 229.14) rotate(-90)">Relative Expression Level</text><rect x="218.08" y="240.19" width="8.16" height="11.3" fill="#000"/><path d="M222.16 240.19L222.16 238.56M219.96 238.56L224.36 238.56" stroke="#000" stroke-width="0.7" fill="none"/><line x1="222.16" y1="251.49" x2="222.16" y2="252.99" stroke="#000" stroke-width="0.6"/><text class="xl" x="221.9" y="260.87">Saline</text><rect x="231.26" y="220.73" width="8.79" height="30.75" fill="#000"/><path d="M235.65 220.73L235.65 216.34M233.45 216.34L237.85 216.34" stroke="#000" stroke-width="0.7" fill="none"/><line x1="235.65" y1="251.49" x2="235.65" y2="252.99" stroke="#000" stroke-width="0.6"/><text class="xl" x="235.4" y="260.87">CCl<tspan class="sb" dy="0.6">4</tspan></text><rect x="243.81" y="231.03" width="8.79" height="20.46" fill="#000"/><path d="M248.21 231.03L248.21 227.89M246.01 227.89L250.41 227.89" stroke="#000" stroke-width="0.7" fill="none"/><line x1="248.21" y1="251.49" x2="248.21" y2="252.99" stroke="#000" stroke-width="0.6"/><text class="xl" x="249.7" y="260.87">CCl<tspan class="sb" dy="0.6">4</tspan><tspan dy="-0.6">+NK</tspan></text><path d="M235.4 213.45L235.4 211.57L248.83 211.57L248.83 226.01" fill="none" stroke="#333" stroke-width="0.5"/><text class="sr" x="242.08" y="211.26">*</text><text class="ct" x="235.4" y="200.95">TGFb2</text></g>
<g><path d="M268.82 206L268.82 251.49L313.76 251.49" fill="none" stroke="#000" stroke-width="0.75"/><line x1="267.22" y1="251.49" x2="268.82" y2="251.49" stroke="#000" stroke-width="0.6"/><text class="tk" x="266.82" y="252.74">0</text><line x1="267.22" y1="236.42" x2="268.82" y2="236.42" stroke="#000" stroke-width="0.6"/><text class="tk" x="266.82" y="237.67">1</text><line x1="267.22" y1="221.36" x2="268.82" y2="221.36" stroke="#000" stroke-width="0.6"/><text class="tk" x="266.82" y="222.61">2</text><line x1="267.22" y1="206.3" x2="268.82" y2="206.3" stroke="#000" stroke-width="0.6"/><text class="tk" x="266.82" y="207.55">3</text><text class="yl" transform="translate(262.04 229.14) rotate(-90)">Relative Expression Level</text><rect x="273.59" y="236.93" width="8.79" height="14.56" fill="#000"/><path d="M277.99 236.93L277.99 235.67M275.79 235.67L280.19 235.67" stroke="#000" stroke-width="0.7" fill="none"/><line x1="277.99" y1="251.49" x2="277.99" y2="252.99" stroke="#000" stroke-width="0.6"/><text class="xl" x="277.7" y="260.87">Saline</text><rect x="286.77" y="219.1" width="8.79" height="32.38" fill="#000"/><path d="M291.16 219.1L291.16 215.59M288.96 215.59L293.36 215.59" stroke="#000" stroke-width="0.7" fill="none"/><line x1="291.16" y1="251.49" x2="291.16" y2="252.99" stroke="#000" stroke-width="0.6"/><text class="xl" x="291.2" y="260.87">CCl<tspan class="sb" dy="0.6">4</tspan></text><rect x="299.95" y="235.17" width="8.79" height="16.32" fill="#000"/><path d="M304.34 235.17L304.34 231.91M302.14 231.91L306.54 231.91" stroke="#000" stroke-width="0.7" fill="none"/><line x1="304.34" y1="251.49" x2="304.34" y2="252.99" stroke="#000" stroke-width="0.6"/><text class="xl" x="305.5" y="260.87">CCl<tspan class="sb" dy="0.6">4</tspan><tspan dy="-0.6">+NK</tspan></text><path d="M291.16 212.83L291.16 210.07L304.34 210.07L304.34 230.4" fill="none" stroke="#333" stroke-width="0.5"/><text class="sr" x="297.84" y="209.75">**</text><text class="ct" x="291.16" y="200.95">MMP9</text></g>
<g><path d="M326.58 206L326.58 251.49L370.13 251.49" fill="none" stroke="#000" stroke-width="0.75"/><line x1="324.98" y1="251.49" x2="326.58" y2="251.49" stroke="#000" stroke-width="0.6"/><text class="tk" x="324.58" y="252.74">0</text><line x1="324.98" y1="242.45" x2="326.58" y2="242.45" stroke="#000" stroke-width="0.6"/><text class="tk" x="324.58" y="243.7">2</text><line x1="324.98" y1="233.41" x2="326.58" y2="233.41" stroke="#000" stroke-width="0.6"/><text class="tk" x="324.58" y="234.66">4</text><line x1="324.98" y1="224.37" x2="326.58" y2="224.37" stroke="#000" stroke-width="0.6"/><text class="tk" x="324.58" y="225.62">6</text><line x1="324.98" y1="215.34" x2="326.58" y2="215.34" stroke="#000" stroke-width="0.6"/><text class="tk" x="324.58" y="216.59">8</text><line x1="324.98" y1="206.3" x2="326.58" y2="206.3" stroke="#000" stroke-width="0.6"/><text class="tk" x="324.58" y="207.55">10</text><text class="yl" transform="translate(318.54 229.14) rotate(-90)">Relative Expression Level</text><rect x="330.97" y="246.97" width="8.79" height="4.52" fill="#000"/><path d="M335.36 246.97L335.36 246.47M333.16 246.47L337.56 246.47" stroke="#000" stroke-width="0.7" fill="none"/><line x1="335.36" y1="251.49" x2="335.36" y2="252.99" stroke="#000" stroke-width="0.6"/><text class="xl" x="333.5" y="260.87">Saline</text><rect x="343.77" y="220.36" width="8.41" height="31.13" fill="#000"/><path d="M347.98 220.36L347.98 216.34M345.78 216.34L350.18 216.34" stroke="#000" stroke-width="0.7" fill="none"/><line x1="347.98" y1="251.49" x2="347.98" y2="252.99" stroke="#000" stroke-width="0.6"/><text class="xl" x="347" y="260.87">CCl<tspan class="sb" dy="0.6">4</tspan></text><rect x="356.32" y="238.93" width="8.79" height="12.55" fill="#000"/><path d="M360.72 238.93L360.72 237.55M358.52 237.55L362.92 237.55" stroke="#000" stroke-width="0.7" fill="none"/><line x1="360.72" y1="251.49" x2="360.72" y2="252.99" stroke="#000" stroke-width="0.6"/><text class="xl" x="361.3" y="260.87">CCl<tspan class="sb" dy="0.6">4</tspan><tspan dy="-0.6">+NK</tspan></text><path d="M347.91 212.83L347.91 210.07L360.72 210.07L360.72 236.05" fill="none" stroke="#333" stroke-width="0.5"/><text class="sr" x="354.34" y="210.38">**</text><text class="ct" x="348.16" y="200.95">LOXL1</text></g>
<g><path d="M215.57 331.63L215.57 376.74L258.25 376.74" fill="none" stroke="#000" stroke-width="0.75"/><line x1="213.97" y1="376.74" x2="215.57" y2="376.74" stroke="#000" stroke-width="0.6"/><text class="tk" x="213.57" y="377.99">0.0</text><line x1="213.97" y1="365.53" x2="215.57" y2="365.53" stroke="#000" stroke-width="0.6"/><text class="tk" x="213.57" y="366.78">0.5</text><line x1="213.97" y1="354.33" x2="215.57" y2="354.33" stroke="#000" stroke-width="0.6"/><text class="tk" x="213.57" y="355.58">1.0</text><line x1="213.97" y1="343.13" x2="215.57" y2="343.13" stroke="#000" stroke-width="0.6"/><text class="tk" x="213.57" y="344.38">1.5</text><line x1="213.97" y1="331.93" x2="215.57" y2="331.93" stroke="#000" stroke-width="0.6"/><text class="tk" x="213.57" y="333.18">2.0</text><text class="yl" transform="translate(206.03 354.14) rotate(-90)">Relative Expression Level</text><rect x="219.59" y="354.4" width="8.53" height="22.34" fill="#000"/><path d="M223.86 354.4L223.86 351.38M221.66 351.38L226.06 351.38" stroke="#000" stroke-width="0.7" fill="none"/><line x1="223.86" y1="376.74" x2="223.86" y2="378.24" stroke="#000" stroke-width="0.6"/><text class="xl" x="221.9" y="385.87">Saline</text><rect x="232.14" y="343.1" width="8.79" height="33.64" fill="#000"/><path d="M236.53 343.1L236.53 340.34M234.33 340.34L238.73 340.34" stroke="#000" stroke-width="0.7" fill="none"/><line x1="236.53" y1="376.74" x2="236.53" y2="378.24" stroke="#000" stroke-width="0.6"/><text class="xl" x="235.4" y="385.87">CCl<tspan class="sb" dy="0.6">4</tspan></text><rect x="244.69" y="353.14" width="8.53" height="23.6" fill="#000"/><path d="M248.96 353.14L248.96 350.38M246.76 350.38L251.16 350.38" stroke="#000" stroke-width="0.7" fill="none"/><line x1="248.96" y1="376.74" x2="248.96" y2="378.24" stroke="#000" stroke-width="0.6"/><text class="xl" x="249.7" y="385.87">CCl<tspan class="sb" dy="0.6">4</tspan><tspan dy="-0.6">+NK</tspan></text><path d="M236.28 337.83L236.28 334.69L249.21 334.69L249.21 349.12" fill="none" stroke="#333" stroke-width="0.5"/><text class="sr" x="242.71" y="334.75">**</text><text class="ct" x="235.65" y="325.95">CSF1</text></g>
<g><path d="M269.58 331.63L269.58 376.74L314.38 376.74" fill="none" stroke="#000" stroke-width="0.75"/><line x1="267.98" y1="376.74" x2="269.58" y2="376.74" stroke="#000" stroke-width="0.6"/><text class="tk" x="267.58" y="377.99">0</text><line x1="267.98" y1="361.8" x2="269.58" y2="361.8" stroke="#000" stroke-width="0.6"/><text class="tk" x="267.58" y="363.05">5</text><line x1="267.98" y1="346.86" x2="269.58" y2="346.86" stroke="#000" stroke-width="0.6"/><text class="tk" x="267.58" y="348.11">10</text><line x1="267.98" y1="331.93" x2="269.58" y2="331.93" stroke="#000" stroke-width="0.6"/><text class="tk" x="267.58" y="333.18">15</text><text class="yl" transform="translate(262.42 354.14) rotate(-90)">Relative Expression Level</text><rect x="274.85" y="373.85" width="8.79" height="2.89" fill="#000"/><path d="M279.24 373.85L279.24 373.35M277.04 373.35L281.44 373.35" stroke="#000" stroke-width="0.7" fill="none"/><line x1="279.24" y1="376.74" x2="279.24" y2="378.24" stroke="#000" stroke-width="0.6"/><text class="xl" x="277.7" y="385.87">Saline</text><rect x="287.65" y="348.12" width="8.53" height="28.62" fill="#000"/><path d="M291.92 348.12L291.92 345.36M289.72 345.36L294.12 345.36" stroke="#000" stroke-width="0.7" fill="none"/><line x1="291.92" y1="376.74" x2="291.92" y2="378.24" stroke="#000" stroke-width="0.6"/><text class="xl" x="291.2" y="385.87">CCl<tspan class="sb" dy="0.6">4</tspan></text><rect x="300.58" y="365.44" width="8.79" height="11.3" fill="#000"/><path d="M304.97 365.44L304.97 363.18M302.77 363.18L307.17 363.18" stroke="#000" stroke-width="0.7" fill="none"/><line x1="304.97" y1="376.74" x2="304.97" y2="378.24" stroke="#000" stroke-width="0.6"/><text class="xl" x="305.5" y="385.87">CCl<tspan class="sb" dy="0.6">4</tspan><tspan dy="-0.6">+NK</tspan></text><path d="M292.17 342.85L292.17 340.09L304.97 340.09L304.97 361.67" fill="none" stroke="#333" stroke-width="0.5"/><text class="sr" x="298.85" y="340.4">***</text><text class="ct" x="291.79" y="325.95">CCL4</text></g>
<g><path d="M326.58 331.63L326.58 376.74L370.13 376.74" fill="none" stroke="#000" stroke-width="0.75"/><line x1="324.98" y1="376.74" x2="326.58" y2="376.74" stroke="#000" stroke-width="0.6"/><text class="tk" x="324.58" y="377.99">0.0</text><line x1="324.98" y1="361.8" x2="326.58" y2="361.8" stroke="#000" stroke-width="0.6"/><text class="tk" x="324.58" y="363.05">0.5</text><line x1="324.98" y1="346.86" x2="326.58" y2="346.86" stroke="#000" stroke-width="0.6"/><text class="tk" x="324.58" y="348.11">1.0</text><line x1="324.98" y1="331.93" x2="326.58" y2="331.93" stroke="#000" stroke-width="0.6"/><text class="tk" x="324.58" y="333.18">1.5</text><text class="yl" transform="translate(318.54 354.14) rotate(-90)">Relative Expression Level</text><rect x="331.22" y="346.86" width="8.53" height="29.87" fill="#000"/><path d="M335.49 346.86L335.49 344.1M333.29 344.1L337.69 344.1" stroke="#000" stroke-width="0.7" fill="none"/><line x1="335.49" y1="376.74" x2="335.49" y2="378.24" stroke="#000" stroke-width="0.6"/><text class="xl" x="333.5" y="385.87">Saline</text><rect x="344.15" y="339.08" width="8.41" height="37.65" fill="#000"/><path d="M348.35 339.08L348.35 334.69M346.15 334.69L350.55 334.69" stroke="#000" stroke-width="0.7" fill="none"/><line x1="348.35" y1="376.74" x2="348.35" y2="378.24" stroke="#000" stroke-width="0.6"/><text class="xl" x="347" y="385.87">CCl<tspan class="sb" dy="0.6">4</tspan></text><rect x="356.95" y="341.59" width="8.16" height="35.14" fill="#000"/><path d="M361.03 341.59L361.03 335.07M358.83 335.07L363.23 335.07" stroke="#000" stroke-width="0.7" fill="none"/><line x1="361.03" y1="376.74" x2="361.03" y2="378.24" stroke="#000" stroke-width="0.6"/><text class="xl" x="361.3" y="385.87">CCl<tspan class="sb" dy="0.6">4</tspan><tspan dy="-0.6">+NK</tspan></text><text class="ct" x="348.42" y="325.95">TNIP2</text></g>
<g><path d="M382.2 331.63L382.2 376.74L426.13 376.74" fill="none" stroke="#000" stroke-width="0.75"/><line x1="380.6" y1="376.74" x2="382.2" y2="376.74" stroke="#000" stroke-width="0.6"/><text class="tk" x="380.2" y="377.99">0</text><line x1="380.6" y1="361.8" x2="382.2" y2="361.8" stroke="#000" stroke-width="0.6"/><text class="tk" x="380.2" y="363.05">5</text><line x1="380.6" y1="346.86" x2="382.2" y2="346.86" stroke="#000" stroke-width="0.6"/><text class="tk" x="380.2" y="348.11">10</text><line x1="380.6" y1="331.93" x2="382.2" y2="331.93" stroke="#000" stroke-width="0.6"/><text class="tk" x="380.2" y="333.18">15</text><text class="yl" transform="translate(374.54 354.14) rotate(-90)">Relative Expression Level</text><rect x="386.97" y="373.85" width="8.41" height="2.89" fill="#000"/><path d="M391.17 373.85L391.17 373.35M388.97 373.35L393.37 373.35" stroke="#000" stroke-width="0.7" fill="none"/><line x1="391.17" y1="376.74" x2="391.17" y2="378.24" stroke="#000" stroke-width="0.6"/><text class="xl" x="389.3" y="385.87">Saline</text><rect x="399.77" y="345.99" width="8.41" height="30.75" fill="#000"/><path d="M403.98 345.99L403.98 342.22M401.78 342.22L406.18 342.22" stroke="#000" stroke-width="0.7" fill="none"/><line x1="403.98" y1="376.74" x2="403.98" y2="378.24" stroke="#000" stroke-width="0.6"/><text class="xl" x="402.8" y="385.87">CCl<tspan class="sb" dy="0.6">4</tspan></text><rect x="412.32" y="365.69" width="8.79" height="11.05" fill="#000"/><path d="M416.72 365.69L416.72 364.81M414.52 364.81L418.92 364.81" stroke="#000" stroke-width="0.7" fill="none"/><line x1="416.72" y1="376.74" x2="416.72" y2="378.24" stroke="#000" stroke-width="0.6"/><text class="xl" x="417.1" y="385.87">CCl<tspan class="sb" dy="0.6">4</tspan><tspan dy="-0.6">+NK</tspan></text><path d="M403.91 339.71L403.91 337.2L416.72 337.2L416.72 363.56" fill="none" stroke="#333" stroke-width="0.5"/><text class="sr" x="410.34" y="337.26">***</text><text class="ct" x="403.91" y="325.95">CCL2</text></g>
<g><path d="M436.94 331.63L436.94 376.74L480.87 376.74" fill="none" stroke="#000" stroke-width="0.75"/><line x1="435.34" y1="376.74" x2="436.94" y2="376.74" stroke="#000" stroke-width="0.6"/><text class="tk" x="434.94" y="377.99">0</text><line x1="435.34" y1="365.53" x2="436.94" y2="365.53" stroke="#000" stroke-width="0.6"/><text class="tk" x="434.94" y="366.78">1</text><line x1="435.34" y1="354.33" x2="436.94" y2="354.33" stroke="#000" stroke-width="0.6"/><text class="tk" x="434.94" y="355.58">2</text><line x1="435.34" y1="343.13" x2="436.94" y2="343.13" stroke="#000" stroke-width="0.6"/><text class="tk" x="434.94" y="344.38">3</text><line x1="435.34" y1="331.93" x2="436.94" y2="331.93" stroke="#000" stroke-width="0.6"/><text class="tk" x="434.94" y="333.18">4</text><text class="yl" transform="translate(430.16 354.14) rotate(-90)">Relative Expression Level</text><rect x="441.59" y="366.07" width="8.53" height="10.67" fill="#000"/><path d="M445.86 366.07L445.86 365.44M443.66 365.44L448.06 365.44" stroke="#000" stroke-width="0.7" fill="none"/><line x1="445.86" y1="376.74" x2="445.86" y2="378.24" stroke="#000" stroke-width="0.6"/><text class="xl" x="445.1" y="385.87">Saline</text><rect x="454.52" y="342.22" width="8.41" height="34.52" fill="#000"/><path d="M458.72 342.22L458.72 339.08M456.52 339.08L460.92 339.08" stroke="#000" stroke-width="0.7" fill="none"/><line x1="458.72" y1="376.74" x2="458.72" y2="378.24" stroke="#000" stroke-width="0.6"/><text class="xl" x="458.6" y="385.87">CCl<tspan class="sb" dy="0.6">4</tspan></text><rect x="467.44" y="353.77" width="8.41" height="22.97" fill="#000"/><path d="M471.65 353.77L471.65 351.38M469.45 351.38L473.85 351.38" stroke="#000" stroke-width="0.7" fill="none"/><line x1="471.65" y1="376.74" x2="471.65" y2="378.24" stroke="#000" stroke-width="0.6"/><text class="xl" x="472.9" y="385.87">CCl<tspan class="sb" dy="0.6">4</tspan><tspan dy="-0.6">+NK</tspan></text><path d="M458.66 337.2L458.66 334.06L471.71 334.06L471.71 349.75" fill="none" stroke="#333" stroke-width="0.5"/><text class="sr" x="465.34" y="334.37">**</text><text class="ct" x="458.28" y="325.95">FCGR1</text></g>
<g><path d="M214.94 404.88L214.94 449.99L258.25 449.99" fill="none" stroke="#000" stroke-width="0.75"/><line x1="213.34" y1="449.99" x2="214.94" y2="449.99" stroke="#000" stroke-width="0.6"/><text class="tk" x="212.94" y="451.24">0</text><line x1="213.34" y1="441.03" x2="214.94" y2="441.03" stroke="#000" stroke-width="0.6"/><text class="tk" x="212.94" y="442.28">2</text><line x1="213.34" y1="432.06" x2="214.94" y2="432.06" stroke="#000" stroke-width="0.6"/><text class="tk" x="212.94" y="433.31">4</text><line x1="213.34" y1="423.1" x2="214.94" y2="423.1" stroke="#000" stroke-width="0.6"/><text class="tk" x="212.94" y="424.35">6</text><line x1="213.34" y1="414.14" x2="214.94" y2="414.14" stroke="#000" stroke-width="0.6"/><text class="tk" x="212.94" y="415.39">8</text><line x1="213.34" y1="405.18" x2="214.94" y2="405.18" stroke="#000" stroke-width="0.6"/><text class="tk" x="212.94" y="406.43">10</text><text class="yl" transform="translate(206.03 427.14) rotate(-90)">Relative Expression Level</text><rect x="219.09" y="445.97" width="8.41" height="4.02" fill="#000"/><path d="M223.29 445.97L223.29 445.34M221.09 445.34L225.49 445.34" stroke="#000" stroke-width="0.7" fill="none"/><line x1="223.29" y1="449.99" x2="223.29" y2="451.49" stroke="#000" stroke-width="0.6"/><text class="xl" x="221.9" y="458.87">Saline</text><rect x="232.14" y="418.99" width="8.53" height="31" fill="#000"/><path d="M236.41 418.99L236.41 412.08M234.21 412.08L238.61 412.08" stroke="#000" stroke-width="0.7" fill="none"/><line x1="236.41" y1="449.99" x2="236.41" y2="451.49" stroke="#000" stroke-width="0.6"/><text class="xl" x="235.4" y="458.87">CCl<tspan class="sb" dy="0.6">4</tspan></text><rect x="244.69" y="438.82" width="8.53" height="11.17" fill="#000"/><path d="M248.96 438.82L248.96 437.81M246.76 437.81L251.16 437.81" stroke="#000" stroke-width="0.7" fill="none"/><line x1="248.96" y1="449.99" x2="248.96" y2="451.49" stroke="#000" stroke-width="0.6"/><text class="xl" x="249.7" y="458.87">CCl<tspan class="sb" dy="0.6">4</tspan><tspan dy="-0.6">+NK</tspan></text><path d="M235.91 409.57L235.91 407.31L249.21 407.31L249.21 436.56" fill="none" stroke="#333" stroke-width="0.5"/><text class="sr" x="242.33" y="407.5">**</text><text class="ct" x="235.65" y="398.95">CD68</text></g>
<g><path d="M269.83 404.88L269.83 449.99L314.38 449.99" fill="none" stroke="#000" stroke-width="0.75"/><line x1="268.23" y1="449.99" x2="269.83" y2="449.99" stroke="#000" stroke-width="0.6"/><text class="tk" x="267.83" y="451.24">0</text><line x1="268.23" y1="441.03" x2="269.83" y2="441.03" stroke="#000" stroke-width="0.6"/><text class="tk" x="267.83" y="442.28">2</text><line x1="268.23" y1="432.06" x2="269.83" y2="432.06" stroke="#000" stroke-width="0.6"/><text class="tk" x="267.83" y="433.31">4</text><line x1="268.23" y1="423.1" x2="269.83" y2="423.1" stroke="#000" stroke-width="0.6"/><text class="tk" x="267.83" y="424.35">6</text><line x1="268.23" y1="414.14" x2="269.83" y2="414.14" stroke="#000" stroke-width="0.6"/><text class="tk" x="267.83" y="415.39">8</text><line x1="268.23" y1="405.18" x2="269.83" y2="405.18" stroke="#000" stroke-width="0.6"/><text class="tk" x="267.83" y="406.43">10</text><text class="yl" transform="translate(262.04 427.14) rotate(-90)">Relative Expression Level</text><rect x="275.1" y="445.97" width="8.53" height="4.02" fill="#000"/><path d="M279.37 445.97L279.37 445.34M277.17 445.34L281.57 445.34" stroke="#000" stroke-width="0.7" fill="none"/><line x1="279.37" y1="449.99" x2="279.37" y2="451.49" stroke="#000" stroke-width="0.6"/><text class="xl" x="277.7" y="458.87">Saline</text><rect x="288.03" y="416.48" width="8.16" height="33.51" fill="#000"/><path d="M292.11 416.48L292.11 411.45M289.91 411.45L294.31 411.45" stroke="#000" stroke-width="0.7" fill="none"/><line x1="292.11" y1="449.99" x2="292.11" y2="451.49" stroke="#000" stroke-width="0.6"/><text class="xl" x="291.2" y="458.87">CCl<tspan class="sb" dy="0.6">4</tspan></text><rect x="300.95" y="438.19" width="8.41" height="11.8" fill="#000"/><path d="M305.16 438.19L305.16 436.56M302.96 436.56L307.36 436.56" stroke="#000" stroke-width="0.7" fill="none"/><line x1="305.16" y1="449.99" x2="305.16" y2="451.49" stroke="#000" stroke-width="0.6"/><text class="xl" x="305.5" y="458.87">CCl<tspan class="sb" dy="0.6">4</tspan><tspan dy="-0.6">+NK</tspan></text><path d="M292.17 409.32L292.17 406.81L304.97 406.81L304.97 434.67" fill="none" stroke="#333" stroke-width="0.5"/><text class="sr" x="298.85" y="406.75">**</text><text class="ct" x="291.79" y="398.95">CD14</text></g>
<g><path d="M326.2 404.88L326.2 449.99L370.13 449.99" fill="none" stroke="#000" stroke-width="0.75"/><line x1="324.6" y1="449.99" x2="326.2" y2="449.99" stroke="#000" stroke-width="0.6"/><text class="tk" x="324.2" y="451.24">0</text><line x1="324.6" y1="438.79" x2="326.2" y2="438.79" stroke="#000" stroke-width="0.6"/><text class="tk" x="324.2" y="440.04">5</text><line x1="324.6" y1="427.58" x2="326.2" y2="427.58" stroke="#000" stroke-width="0.6"/><text class="tk" x="324.2" y="428.83">10</text><line x1="324.6" y1="416.38" x2="326.2" y2="416.38" stroke="#000" stroke-width="0.6"/><text class="tk" x="324.2" y="417.63">15</text><line x1="324.6" y1="405.18" x2="326.2" y2="405.18" stroke="#000" stroke-width="0.6"/><text class="tk" x="324.2" y="406.43">20</text><text class="yl" transform="translate(318.54 427.14) rotate(-90)">Relative Expression Level</text><rect x="330.97" y="447.85" width="8.41" height="2.13" fill="#000"/><path d="M335.17 447.85L335.17 447.48M332.97 447.48L337.37 447.48" stroke="#000" stroke-width="0.7" fill="none"/><line x1="335.17" y1="449.99" x2="335.17" y2="451.49" stroke="#000" stroke-width="0.6"/><text class="xl" x="333.5" y="458.87">Saline</text><rect x="343.77" y="422.5" width="8.41" height="27.49" fill="#000"/><path d="M347.98 422.5L347.98 417.1M345.78 417.1L350.18 417.1" stroke="#000" stroke-width="0.7" fill="none"/><line x1="347.98" y1="449.99" x2="347.98" y2="451.49" stroke="#000" stroke-width="0.6"/><text class="xl" x="347" y="458.87">CCl<tspan class="sb" dy="0.6">4</tspan></text><rect x="356.32" y="444.47" width="8.79" height="5.52" fill="#000"/><path d="M360.72 444.47L360.72 443.71M358.52 443.71L362.92 443.71" stroke="#000" stroke-width="0.7" fill="none"/><line x1="360.72" y1="449.99" x2="360.72" y2="451.49" stroke="#000" stroke-width="0.6"/><text class="xl" x="361.3" y="458.87">CCl<tspan class="sb" dy="0.6">4</tspan><tspan dy="-0.6">+NK</tspan></text><path d="M347.91 414.34L347.91 412.08L360.72 412.08L360.72 442.21" fill="none" stroke="#333" stroke-width="0.5"/><text class="sr" x="354.34" y="412.14">**</text><text class="ct" x="347.91" y="398.95">SAA1</text></g>
<g><path d="M381.32 404.88L381.32 449.99L425.25 449.99" fill="none" stroke="#000" stroke-width="0.75"/><line x1="379.72" y1="449.99" x2="381.32" y2="449.99" stroke="#000" stroke-width="0.6"/><text class="tk" x="379.32" y="451.24">0</text><line x1="379.72" y1="441.03" x2="381.32" y2="441.03" stroke="#000" stroke-width="0.6"/><text class="tk" x="379.32" y="442.28">1</text><line x1="379.72" y1="432.06" x2="381.32" y2="432.06" stroke="#000" stroke-width="0.6"/><text class="tk" x="379.32" y="433.31">2</text><line x1="379.72" y1="423.1" x2="381.32" y2="423.1" stroke="#000" stroke-width="0.6"/><text class="tk" x="379.32" y="424.35">3</text><line x1="379.72" y1="414.14" x2="381.32" y2="414.14" stroke="#000" stroke-width="0.6"/><text class="tk" x="379.32" y="415.39">4</text><line x1="379.72" y1="405.18" x2="381.32" y2="405.18" stroke="#000" stroke-width="0.6"/><text class="tk" x="379.32" y="406.43">5</text><text class="yl" transform="translate(374.16 427.14) rotate(-90)">Relative Expression Level</text><rect x="385.59" y="441.2" width="8.53" height="8.79" fill="#000"/><path d="M389.86 441.2L389.86 440.7M387.66 440.7L392.06 440.7" stroke="#000" stroke-width="0.7" fill="none"/><line x1="389.86" y1="449.99" x2="389.86" y2="451.49" stroke="#000" stroke-width="0.6"/><text class="xl" x="389.3" y="458.87">Saline</text><rect x="398.52" y="416.48" width="8.79" height="33.51" fill="#000"/><path d="M402.91 416.48L402.91 412.33M400.71 412.33L405.11 412.33" stroke="#000" stroke-width="0.7" fill="none"/><line x1="402.91" y1="449.99" x2="402.91" y2="451.49" stroke="#000" stroke-width="0.6"/><text class="xl" x="402.8" y="458.87">CCl<tspan class="sb" dy="0.6">4</tspan></text><rect x="411.44" y="437.19" width="8.79" height="12.8" fill="#000"/><path d="M415.84 437.19L415.84 434.42M413.64 434.42L418.04 434.42" stroke="#000" stroke-width="0.7" fill="none"/><line x1="415.84" y1="449.99" x2="415.84" y2="451.49" stroke="#000" stroke-width="0.6"/><text class="xl" x="417.1" y="458.87">CCl<tspan class="sb" dy="0.6">4</tspan><tspan dy="-0.6">+NK</tspan></text><path d="M402.66 409.82L402.66 407.06L415.71 407.06L415.71 432.79" fill="none" stroke="#333" stroke-width="0.5"/><text class="sr" x="409.34" y="407.37">**</text><text class="ct" x="402.66" y="398.95">CCL19</text></g>
<g><path d="M438.2 404.88L438.2 449.99L482.13 449.99" fill="none" stroke="#000" stroke-width="0.75"/><line x1="436.6" y1="449.99" x2="438.2" y2="449.99" stroke="#000" stroke-width="0.6"/><text class="tk" x="436.2" y="451.24">0</text><line x1="436.6" y1="438.79" x2="438.2" y2="438.79" stroke="#000" stroke-width="0.6"/><text class="tk" x="436.2" y="440.04">20</text><line x1="436.6" y1="427.58" x2="438.2" y2="427.58" stroke="#000" stroke-width="0.6"/><text class="tk" x="436.2" y="428.83">40</text><line x1="436.6" y1="416.38" x2="438.2" y2="416.38" stroke="#000" stroke-width="0.6"/><text class="tk" x="436.2" y="417.63">60</text><line x1="436.6" y1="405.18" x2="438.2" y2="405.18" stroke="#000" stroke-width="0.6"/><text class="tk" x="436.2" y="406.43">80</text><text class="yl" transform="translate(430.54 427.14) rotate(-90)">Relative Expression Level</text><rect x="442.97" y="449.36" width="8.41" height="0.63" fill="#000"/><line x1="447.17" y1="449.99" x2="447.17" y2="451.49" stroke="#000" stroke-width="0.6"/><text class="xl" x="445.1" y="458.87">Saline</text><rect x="455.77" y="419.99" width="8.41" height="30" fill="#000"/><path d="M459.98 419.99L459.98 415.85M457.78 415.85L462.18 415.85" stroke="#000" stroke-width="0.7" fill="none"/><line x1="459.98" y1="449.99" x2="459.98" y2="451.49" stroke="#000" stroke-width="0.6"/><text class="xl" x="458.6" y="458.87">CCl<tspan class="sb" dy="0.6">4</tspan></text><rect x="468.32" y="441.83" width="8.79" height="8.16" fill="#000"/><path d="M472.72 441.83L472.72 440.07M470.52 440.07L474.92 440.07" stroke="#000" stroke-width="0.7" fill="none"/><line x1="472.72" y1="449.99" x2="472.72" y2="451.49" stroke="#000" stroke-width="0.6"/><text class="xl" x="472.9" y="458.87">CCl<tspan class="sb" dy="0.6">4</tspan><tspan dy="-0.6">+NK</tspan></text><path d="M459.91 413.34L459.91 410.83L472.72 410.83L472.72 439.07" fill="none" stroke="#333" stroke-width="0.5"/><text class="sr" x="466.34" y="411.14">***</text><text class="ct" x="459.91" y="398.95">ADAM8</text></g>
<g><path d="M213.69 477.63L213.69 522.74L257.62 522.74" fill="none" stroke="#000" stroke-width="0.75"/><line x1="212.09" y1="522.74" x2="213.69" y2="522.74" stroke="#000" stroke-width="0.6"/><text class="tk" x="211.69" y="523.99">0</text><line x1="212.09" y1="507.8" x2="213.69" y2="507.8" stroke="#000" stroke-width="0.6"/><text class="tk" x="211.69" y="509.05">1</text><line x1="212.09" y1="492.86" x2="213.69" y2="492.86" stroke="#000" stroke-width="0.6"/><text class="tk" x="211.69" y="494.11">2</text><line x1="212.09" y1="477.93" x2="213.69" y2="477.93" stroke="#000" stroke-width="0.6"/><text class="tk" x="211.69" y="479.18">3</text><text class="yl" transform="translate(206.53 500.14) rotate(-90)">Relative Expression Level</text><rect x="218.08" y="508.05" width="8.16" height="14.69" fill="#000"/><path d="M222.16 508.05L222.16 505.79M219.96 505.79L224.36 505.79" stroke="#000" stroke-width="0.7" fill="none"/><line x1="222.16" y1="522.74" x2="222.16" y2="524.24" stroke="#000" stroke-width="0.6"/><text class="xl" x="221.9" y="531.87">Saline</text><rect x="231.26" y="487.97" width="8.79" height="34.77" fill="#000"/><path d="M235.65 487.97L235.65 482.57M233.45 482.57L237.85 482.57" stroke="#000" stroke-width="0.7" fill="none"/><line x1="235.65" y1="522.74" x2="235.65" y2="524.24" stroke="#000" stroke-width="0.6"/><text class="xl" x="235.4" y="531.87">CCl<tspan class="sb" dy="0.6">4</tspan></text><rect x="243.81" y="500.52" width="8.79" height="22.22" fill="#000"/><path d="M248.21 500.52L248.21 498.26M246.01 498.26L250.41 498.26" stroke="#000" stroke-width="0.7" fill="none"/><line x1="248.21" y1="522.74" x2="248.21" y2="524.24" stroke="#000" stroke-width="0.6"/><text class="xl" x="249.7" y="531.87">CCl<tspan class="sb" dy="0.6">4</tspan><tspan dy="-0.6">+NK</tspan></text><path d="M235.4 479.43L235.4 476.92L248.83 476.92L248.83 496.38" fill="none" stroke="#333" stroke-width="0.5"/><text class="sr" x="242.08" y="477.61">*</text><text class="ct" x="235.03" y="471.95">ICAM1</text></g>
<g><path d="M269.83 477.88L269.83 522.74L314.38 522.74" fill="none" stroke="#000" stroke-width="0.75"/><line x1="268.23" y1="522.74" x2="269.83" y2="522.74" stroke="#000" stroke-width="0.6"/><text class="tk" x="267.83" y="523.99">0</text><line x1="268.23" y1="513.83" x2="269.83" y2="513.83" stroke="#000" stroke-width="0.6"/><text class="tk" x="267.83" y="515.08">10</text><line x1="268.23" y1="504.91" x2="269.83" y2="504.91" stroke="#000" stroke-width="0.6"/><text class="tk" x="267.83" y="506.16">20</text><line x1="268.23" y1="496" x2="269.83" y2="496" stroke="#000" stroke-width="0.6"/><text class="tk" x="267.83" y="497.25">30</text><line x1="268.23" y1="487.09" x2="269.83" y2="487.09" stroke="#000" stroke-width="0.6"/><text class="tk" x="267.83" y="488.34">40</text><line x1="268.23" y1="478.18" x2="269.83" y2="478.18" stroke="#000" stroke-width="0.6"/><text class="tk" x="267.83" y="479.43">50</text><text class="yl" transform="translate(262.04 500.14) rotate(-90)">Relative Expression Level</text><rect x="275.1" y="521.86" width="8.53" height="0.88" fill="#000"/><line x1="279.37" y1="522.74" x2="279.37" y2="524.24" stroke="#000" stroke-width="0.6"/><text class="xl" x="277.7" y="531.87">Saline</text><rect x="288.03" y="489.22" width="8.16" height="33.51" fill="#000"/><path d="M292.11 489.22L292.11 487.34M289.91 487.34L294.31 487.34" stroke="#000" stroke-width="0.7" fill="none"/><line x1="292.11" y1="522.74" x2="292.11" y2="524.24" stroke="#000" stroke-width="0.6"/><text class="xl" x="291.2" y="531.87">CCl<tspan class="sb" dy="0.6">4</tspan></text><rect x="300.95" y="515.83" width="8.41" height="6.9" fill="#000"/><path d="M305.16 515.83L305.16 513.32M302.96 513.32L307.36 513.32" stroke="#000" stroke-width="0.7" fill="none"/><line x1="305.16" y1="522.74" x2="305.16" y2="524.24" stroke="#000" stroke-width="0.6"/><text class="xl" x="305.5" y="531.87">CCl<tspan class="sb" dy="0.6">4</tspan><tspan dy="-0.6">+NK</tspan></text><path d="M292.17 484.83L292.17 482.32L304.97 482.32L304.97 512.07" fill="none" stroke="#333" stroke-width="0.5"/><text class="sr" x="298.59" y="482.26">****</text><text class="ct" x="291.42" y="471.95">ITGAM</text></g>
<g><path d="M327.08 477.63L327.08 522.74L370.51 522.74" fill="none" stroke="#000" stroke-width="0.75"/><line x1="325.48" y1="522.74" x2="327.08" y2="522.74" stroke="#000" stroke-width="0.6"/><text class="tk" x="325.08" y="523.99">0</text><line x1="325.48" y1="507.8" x2="327.08" y2="507.8" stroke="#000" stroke-width="0.6"/><text class="tk" x="325.08" y="509.05">50</text><line x1="325.48" y1="492.86" x2="327.08" y2="492.86" stroke="#000" stroke-width="0.6"/><text class="tk" x="325.08" y="494.11">100</text><line x1="325.48" y1="477.93" x2="327.08" y2="477.93" stroke="#000" stroke-width="0.6"/><text class="tk" x="325.08" y="479.18">150</text><text class="yl" transform="translate(318.54 500.14) rotate(-90)">Relative Expression Level</text><line x1="336.74" y1="522.74" x2="336.74" y2="524.24" stroke="#000" stroke-width="0.6"/><text class="xl" x="333.5" y="531.87">Saline</text><rect x="344.4" y="495.5" width="8.53" height="27.24" fill="#000"/><path d="M348.67 495.5L348.67 491.11M346.47 491.11L350.87 491.11" stroke="#000" stroke-width="0.7" fill="none"/><line x1="348.67" y1="522.74" x2="348.67" y2="524.24" stroke="#000" stroke-width="0.6"/><text class="xl" x="347" y="531.87">CCl<tspan class="sb" dy="0.6">4</tspan></text><rect x="357.2" y="518.09" width="8.28" height="4.64" fill="#000"/><path d="M361.34 518.09L361.34 517.47M359.14 517.47L363.54 517.47" stroke="#000" stroke-width="0.7" fill="none"/><line x1="361.34" y1="522.74" x2="361.34" y2="524.24" stroke="#000" stroke-width="0.6"/><text class="xl" x="361.3" y="531.87">CCl<tspan class="sb" dy="0.6">4</tspan><tspan dy="-0.6">+NK</tspan></text><path d="M348.79 488.22L348.79 485.71L361.34 485.71L361.34 516.46" fill="none" stroke="#333" stroke-width="0.5"/><text class="sr" x="355.22" y="485.77">***</text><text class="ct" x="348.42" y="471.95">S100a8</text></g>
<g><path d="M382.83 477.63L382.83 522.74L426.51 522.74" fill="none" stroke="#000" stroke-width="0.75"/><line x1="381.23" y1="522.74" x2="382.83" y2="522.74" stroke="#000" stroke-width="0.6"/><text class="tk" x="380.83" y="523.99">0</text><line x1="381.23" y1="513.77" x2="382.83" y2="513.77" stroke="#000" stroke-width="0.6"/><text class="tk" x="380.83" y="515.02">20</text><line x1="381.23" y1="504.81" x2="382.83" y2="504.81" stroke="#000" stroke-width="0.6"/><text class="tk" x="380.83" y="506.06">40</text><line x1="381.23" y1="495.85" x2="382.83" y2="495.85" stroke="#000" stroke-width="0.6"/><text class="tk" x="380.83" y="497.1">60</text><line x1="381.23" y1="486.89" x2="382.83" y2="486.89" stroke="#000" stroke-width="0.6"/><text class="tk" x="380.83" y="488.14">80</text><line x1="381.23" y1="477.93" x2="382.83" y2="477.93" stroke="#000" stroke-width="0.6"/><text class="tk" x="380.83" y="479.18">100</text><text class="yl" transform="translate(374.54 500.14) rotate(-90)">Relative Expression Level</text><rect x="388.6" y="522.36" width="8.28" height="0.38" fill="#000"/><line x1="392.74" y1="522.74" x2="392.74" y2="524.24" stroke="#000" stroke-width="0.6"/><text class="xl" x="389.3" y="531.87">Saline</text><rect x="400.4" y="491.36" width="8.53" height="31.38" fill="#000"/><path d="M404.67 491.36L404.67 486.97M402.47 486.97L406.87 486.97" stroke="#000" stroke-width="0.7" fill="none"/><line x1="404.67" y1="522.74" x2="404.67" y2="524.24" stroke="#000" stroke-width="0.6"/><text class="xl" x="402.8" y="531.87">CCl<tspan class="sb" dy="0.6">4</tspan></text><rect x="413.2" y="518.97" width="8.28" height="3.77" fill="#000"/><path d="M417.34 518.97L417.34 517.97M415.14 517.97L419.54 517.97" stroke="#000" stroke-width="0.7" fill="none"/><line x1="417.34" y1="522.74" x2="417.34" y2="524.24" stroke="#000" stroke-width="0.6"/><text class="xl" x="417.1" y="531.87">CCl<tspan class="sb" dy="0.6">4</tspan><tspan dy="-0.6">+NK</tspan></text><path d="M404.79 483.83L404.79 481.07L417.34 481.07L417.34 516.71" fill="none" stroke="#333" stroke-width="0.5"/><text class="sr" x="411.22" y="481.76">***</text><text class="ct" x="404.42" y="471.95">S100a9</text></g></svg>
</body></html>
